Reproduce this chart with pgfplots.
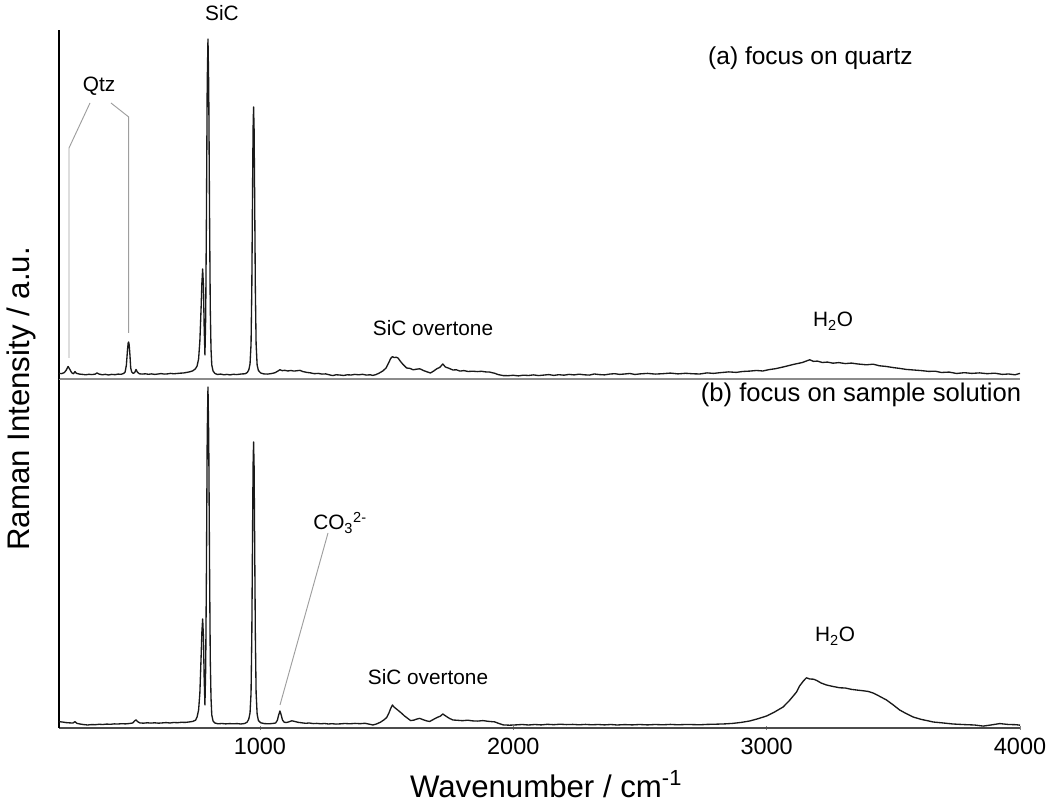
\documentclass[border=0pt]{standalone}
\usepackage{pgfplots}
\pgfplotsset{compat=1.18}
\usepackage{fontspec}
\setmainfont{Liberation Sans}
\definecolor{leader}{gray}{0.62}
\pgfplotstableread{
x y
207 5.5
218 5.4
228 6.4
236 9
243 12.5
250 9.5
257 6.3
264 5.2
270 7.4
276 5.6
288 4.9
300 4.6
312 4.2
325 4.7
337 4.4
350 4.9
357 6.1
364 5
378 4.2
390 4.7
402 4.0
415 4.6
428 4.3
440 4.9
452 4.7
462 5.5
468 7
473 14
477 28
480 36
482 37
484 34
487 24
490 11
494 7
500 5.6
506 6.5
511 9.5
516 7
524 5.2
535 4.9
548 5.2
560 4.7
572 5.1
585 4.6
598 5
610 5.4
622 4.9
635 5.1
648 5.6
660 5.2
672 5.5
685 5.8
698 6
712 6.6
725 7.3
735 8.2
745 10
752 13
758 20
763 38
768 72
771 96
774 110
777 94
780 52
783 24
786 62
789 165
792 295
795 340
798 292
801 172
804 72
807 30
810 14
815 8
822 5.6
832 4.5
845 4.9
858 4.2
870 4.6
882 4.1
895 4.7
908 4.4
920 4.8
932 5.1
942 5.2
950 6.5
956 9
961 15
965 35
968 90
971 190
973 250
975 272
977 250
979 190
982 90
985 35
989 14
994 8.5
1003 6
1015 5.1
1030 4.9
1045 5.4
1060 6.3
1072 8.1
1079 9.3
1088 8.3
1098 8.7
1110 8
1122 8.5
1135 7.9
1147 8.3
1158 8.6
1170 7.4
1185 6.6
1200 6.1
1215 5.3
1230 5.6
1245 4.9
1260 5.1
1275 4.1
1288 3.4
1300 4.2
1315 4
1330 3.5
1345 4.2
1360 4
1375 4.6
1390 4.2
1405 4.7
1420 3.9
1435 4.2
1446 3.6
1458 4.4
1470 5.8
1485 8
1498 11
1508 16
1516 20.5
1523 22.3
1530 21.4
1538 21.8
1545 21
1555 17.5
1565 14.5
1579 11
1592 10.6
1605 9.2
1618 9.8
1631 10.2
1645 8.5
1658 7.3
1673 6
1685 7.8
1698 10.2
1710 11.6
1722 15
1732 12
1745 10.8
1762 9
1775 9.2
1790 7.9
1805 8.4
1822 7.5
1840 7.8
1858 7.4
1875 7.7
1890 7.1
1907 6.9
1925 5.8
1942 4.3
1960 3.4
1980 3.3
2000 3.7
2020 3.1
2040 3.8
2060 3.5
2080 4.1
2100 3.4
2120 3.9
2140 4.4
2160 3.6
2180 4.3
2200 3.8
2220 4.6
2240 4.1
2260 4.8
2280 4.2
2300 3.9
2320 5
2340 4.4
2360 4.1
2380 4.9
2400 5.3
2420 4.6
2440 5
2460 5.5
2480 4.5
2500 5.1
2530 5.6
2560 4.9
2590 5.3
2620 5.9
2650 5.1
2680 5.7
2710 5.2
2736 5
2765 6.1
2790 5.6
2820 6.4
2850 7.1
2880 6.6
2905 7.5
2933 7.9
2960 8.5
2985 8
3010 9.4
3035 10.3
3065 12
3090 13.6
3115 15.1
3140 16.4
3155 17.8
3170 19.2
3185 17.6
3200 17.9
3220 16.5
3240 16.9
3262 15.8
3285 16.4
3310 15.4
3335 15.9
3360 15
3394 14.2
3420 14.8
3445 13.2
3470 12.6
3500 11.4
3525 10.6
3550 9.6
3580 9
3610 8.4
3640 7.6
3665 7.8
3690 6.5
3720 6.9
3750 5.5
3780 6.3
3810 5.6
3840 6.1
3870 5.3
3900 5.8
3930 4.6
3955 5
3980 4.2
4000 5.6
}\upperdata
\pgfplotstableread{
x y
207 6.3
220 6
235 5.4
250 5.1
262 5
270 6.3
278 4.6
292 3.9
305 3.4
320 3
335 3.4
350 3.3
365 3.7
380 3.5
395 3.9
410 3.7
425 4.1
440 4
455 4.3
470 4.1
485 4.5
498 5
505 7
511 8.2
517 6.4
526 5.1
540 4.8
555 5.2
570 4.9
585 5.2
600 4.8
615 5.1
630 5.4
645 5
660 5.5
675 5.3
690 5.7
705 5.6
720 6
735 6.6
746 7.8
752 11
758 18
763 35
768 72
771 96
774 109
777 92
780 50
783 23
786 60
789 160
792 292
795 341
798 290
801 170
804 70
807 30
810 13
815 7
822 5
835 4.2
850 4.5
865 4.1
880 4.4
895 4.2
910 4.4
925 4
940 4.5
950 6
956 9
961 15
965 35
968 92
971 195
973 262
975 286
977 262
979 195
982 92
985 35
989 14
994 7.5
1003 5.2
1018 4.4
1035 4.2
1050 4.5
1062 5
1069 7.8
1074 13
1079 17
1084 13
1089 8
1096 5.7
1105 5.5
1115 6.2
1126 7.2
1138 6.5
1150 5.7
1165 5.2
1180 4.7
1195 5
1210 4.4
1225 4.6
1240 4.2
1255 4.5
1270 4
1285 4.3
1300 3.9
1315 4.1
1335 4.5
1355 4.2
1375 4.6
1395 4.3
1415 4.7
1430 3.9
1446 3
1460 4
1475 5.7
1490 8.2
1500 10.4
1510 15.5
1517 20
1523 23
1530 20.8
1540 18.8
1558 15
1570 12.2
1585 9.3
1595 7.4
1608 7.9
1620 9
1631 9.6
1645 8.2
1658 7.1
1670 6.5
1685 8.6
1700 10.6
1712 11.8
1722 14
1735 11.7
1748 9.6
1762 8
1780 7.7
1800 7.3
1820 7.8
1840 7.1
1860 6.9
1880 7.4
1900 6.7
1927 6.1
1942 4.6
1960 3.1
1985 2.8
2010 3.1
2035 3.5
2060 3
2085 3.5
2110 3.1
2135 3.7
2160 3.3
2185 3.8
2210 3.4
2235 3.6
2260 3.2
2285 3.6
2310 3.2
2335 3.5
2360 3.1
2385 3.5
2410 3
2440 3.4
2470 3.1
2498 3.5
2530 3.1
2560 3.5
2590 3.2
2620 3.6
2650 3.2
2680 3.5
2710 3.4
2736 3.2
2765 3.6
2800 3.8
2835 4.1
2866 4.6
2900 5.6
2933 7
2965 9.2
3000 12
3030 15.8
3065 21
3090 27.5
3105 32
3118 36
3130 42
3145 47
3157 50.2
3170 49
3185 48.8
3197 47.6
3215 45
3236 43
3262 41.5
3289 40.2
3310 40
3335 38.6
3354 38
3375 37.4
3400 36.6
3420 35
3445 31.8
3473 28
3500 23
3525 18
3550 14.5
3578 11
3610 8.6
3640 7
3657 6
3690 5.2
3735 4
3780 3.4
3820 3
3855 1.9
3885 3
3920 4.4
3955 3.5
3985 3.3
4000 2.8
}\lowerdata
\pgfplotsset{panel/.style={
  width=720.75pt,height=261.75pt,scale only axis,
  xmin=207,xmax=4000,ymin=0,ymax=349,clip=false,
  axis lines=left,axis line style={-},
  ytick=\empty,
  y axis line style={black,line width=0.8pt},
}}
\begin{document}
\begin{tikzpicture}
\useasboundingbox (0,0) rectangle (787.5pt,603.75pt);
% lower panel
\begin{axis}[panel,at={(44.25pt,57.75pt)},anchor=south west,
  x axis line style={draw=black!70,line width=0.8pt},
  xtick={1000,2000,3000,4000},
  minor xtick={250,500,750,1250,1500,1750,2250,2500,2750,3250,3500,3750},
  major tick length=2.5pt,minor tick length=1.5pt,
  xtick style={black!50,line width=0.5pt},
  xticklabel style={font=\fontsize{17.6pt}{20pt}\selectfont,yshift=-3pt},
  /pgf/number format/1000 sep={},
  /pgf/number format/assume math mode=true,
  xlabel={Wavenumber / cm\textsuperscript{-1}},
  ylabel={Raman Intensity / a.u.},
  xlabel style={font=\fontsize{23.4pt}{26pt}\selectfont,inner sep=0pt,at={(axis description cs:0.5068,-0.2)},anchor=base},
  ylabel style={font=\fontsize{23.4pt}{26pt}\selectfont,inner sep=0pt,at={(axis description cs:-0.0312,0.943)},anchor=base},
]
\addplot[black!90,line width=1pt,line join=round] table[x=x,y=y] {\lowerdata};
\end{axis}
% upper panel
\begin{axis}[panel,at={(44.25pt,319.5pt)},anchor=south west,
  x axis line style={draw=black!45,line width=0.9pt},
  xtick=\empty,
]
\addplot[black!90,line width=1pt,line join=round] table[x=x,y=y] {\upperdata};
\end{axis}
% annotations in reference pixels
\begin{scope}[shift={(0,603.75pt)},x=0.75pt,y=-0.75pt]
\draw[leader,line width=0.7pt] (90,103)--(69,148)--(69,358);
\draw[leader,line width=0.7pt] (111,103)--(128.7,117)--(128.7,333);
\draw[leader,line width=0.7pt] (280,705)--(328,533);
\tikzset{every node/.style={font=\fontsize{15.6pt}{18pt}\selectfont,inner sep=0pt}}
\node at (222,13) {SiC};
\node at (99,86) {Qtz};
\node at (433,328) {SiC overtone};
\node at (428,677) {SiC overtone};
\node at (833,321) {H\textsubscript{2}O};
\node at (835,636) {H\textsubscript{2}O};
\node[anchor=west] at (313,523) {CO\textsubscript{3}\textsuperscript{2-}};
\node[font=\fontsize{18.4pt}{22pt}\selectfont] at (810.5,58) {(a) focus on quartz};
\node[font=\fontsize{19.2pt}{22pt}\selectfont] at (861,395) {(b) focus on sample solution};
\end{scope}
\end{tikzpicture}
\end{document}
